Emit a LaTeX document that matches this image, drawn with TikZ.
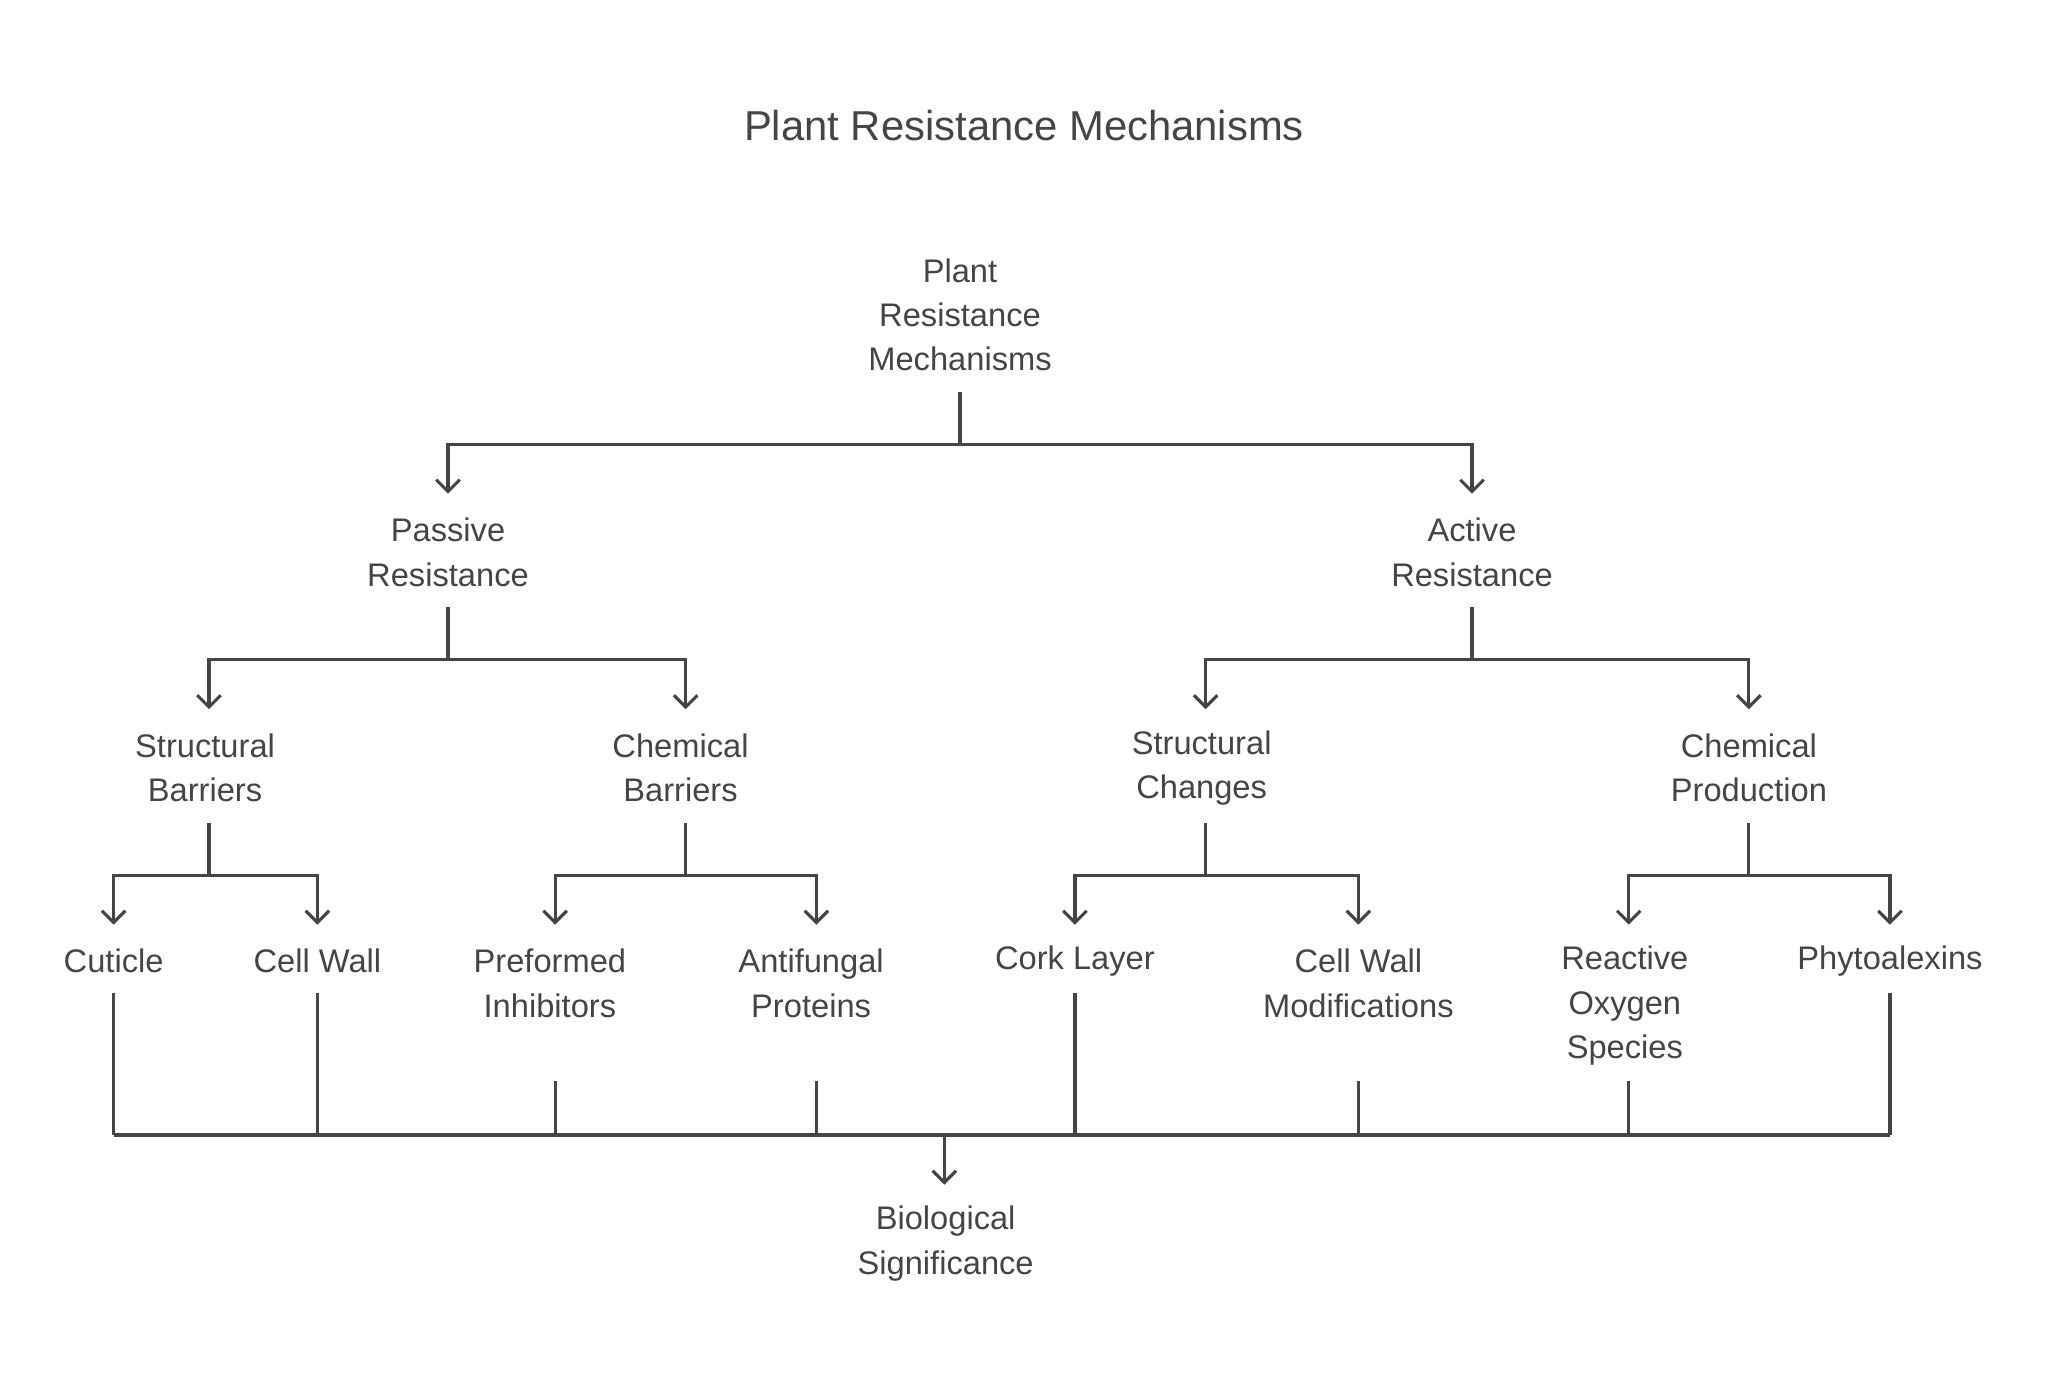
\documentclass[tikz,border=0pt]{standalone}
\usepackage{fontspec}
\setmainfont{Liberation Sans}
\usetikzlibrary{arrows.meta}
\definecolor{ink}{HTML}{454545}
\begin{document}
\begin{tikzpicture}[x=1pt,y=-1pt,
  lbl/.style={font=\fontsize{25}{34}\selectfont,text=ink,align=center,inner sep=0pt},
  conn/.style={draw=ink,line width=2.4pt},
  arr/.style={conn,-{Straight Barb[length=9pt,width=18pt,line width=2.4pt]}}]
\useasboundingbox (0,0) rectangle (1568,1056);
\node[lbl,font=\fontsize{32}{38}\selectfont] (title) at (784,96) {Plant Resistance Mechanisms};
\node[lbl] (root) at (735,241) {Plant\\Resistance\\Mechanisms};
\node[lbl] (pas) at (343,423) {Passive\\Resistance};
\node[lbl] (act) at (1127,423) {Active\\Resistance};
\node[lbl] (sb) at (157,588) {Structural\\Barriers};
\node[lbl] (cb) at (521,588) {Chemical\\Barriers};
\node[lbl] (sc) at (920,588) {Structural\\Changes};
\node[lbl] (cp) at (1339,588) {Chemical\\Production};
\node[lbl] (cut) at (87,736) {Cuticle};
\node[lbl] (cw) at (243,736) {Cell Wall};
\node[lbl] (pi) at (421,753) {Preformed\\Inhibitors};
\node[lbl] (ap) at (621,753) {Antifungal\\Proteins};
\node[lbl] (cl) at (823,736) {Cork Layer};
\node[lbl] (cwm) at (1040,753) {Cell Wall\\Modifications};
\node[lbl] (ros) at (1244,770) {Reactive\\Oxygen\\Species};
\node[lbl] (phy) at (1447,736) {Phytoalexins};
\node[lbl] (bio) at (724,952) {Biological\\Significance};
% level 1
\coordinate (j0) at (735,340);
\draw[conn] (735,300) -- (j0);
\draw[arr] (j0) -| (343,378);
\draw[arr] (j0) -| (1127,378);
% level 2
\draw[conn] (343,465) -- (343,505);
\draw[arr] (343,505) -| (160,543);
\draw[arr] (343,505) -| (525,543);
\draw[conn] (1127,465) -- (1127,505);
\draw[arr] (1127,505) -| (923,543);
\draw[arr] (1127,505) -| (1339,543);
% level 3
\foreach \c/\l/\r in {160/87/243, 525/425/625, 923/823/1040, 1339/1247/1447}{
  \draw[conn] (\c,630) -- (\c,670);
  \draw[arr] (\c,670) -| (\l,708);
  \draw[arr] (\c,670) -| (\r,708);
}
% bottom bus
\draw[conn] (87,869) -- (1447,869);
\foreach \x in {87,243,823,1447} \draw[conn] (\x,760) -- (\x,869);
\foreach \x in {425,625,1040,1247} \draw[conn] (\x,828) -- (\x,869);
\draw[arr] (723,869) -- (723,907);
\end{tikzpicture}
\end{document}
